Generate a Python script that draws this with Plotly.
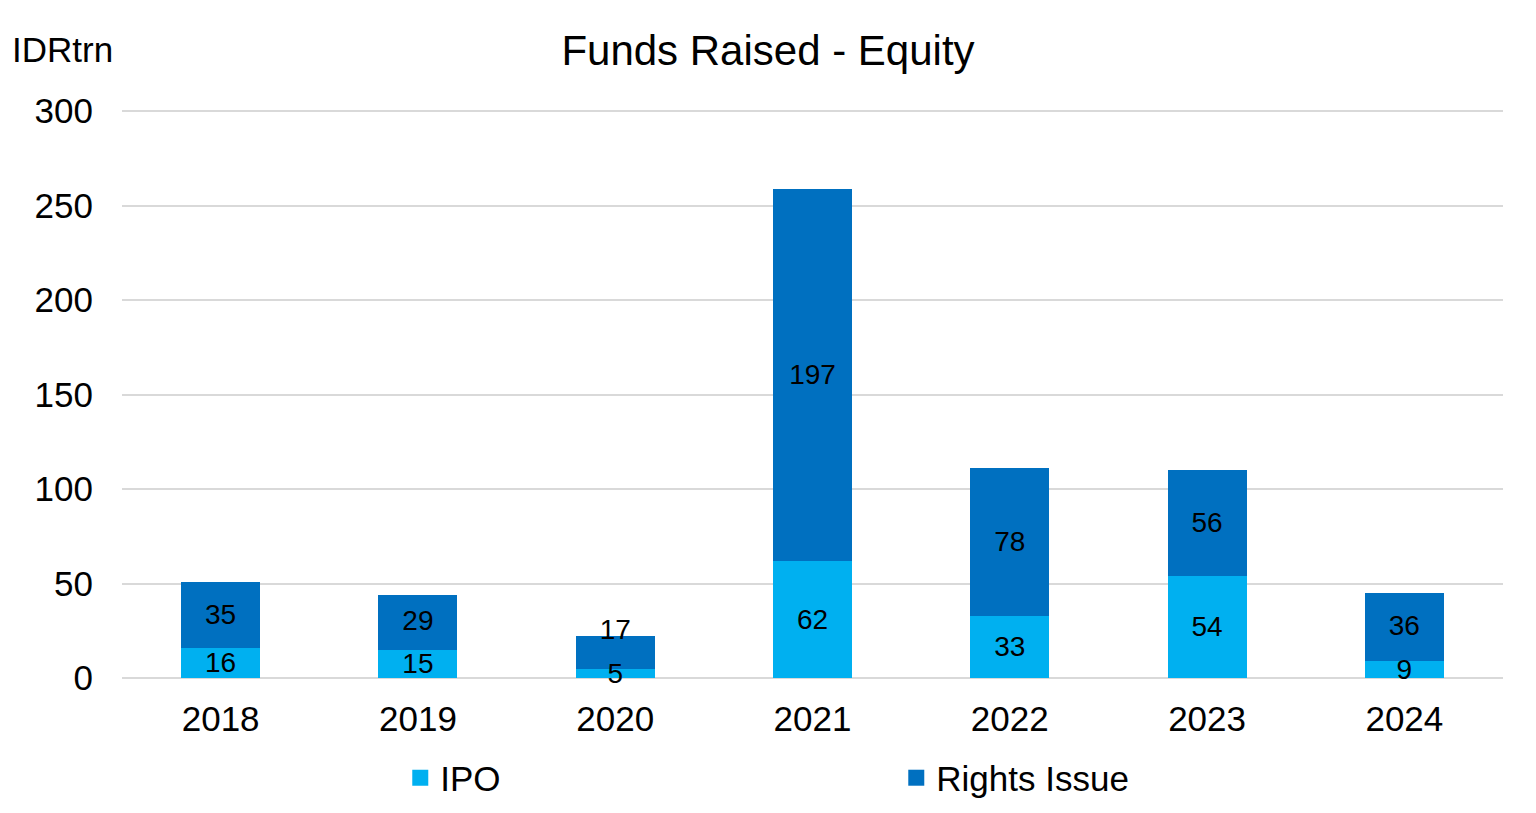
import plotly.graph_objects as go

years = ["2018", "2019", "2020", "2021", "2022", "2023", "2024"]
ipo = [16, 15, 5, 62, 33, 54, 9]
rights = [35, 29, 17, 197, 78, 56, 36]

FONT = "Liberation Sans, Arial, sans-serif"
IPO_COL = "#00B0F0"
RIGHTS_COL = "#0070C0"

# label spots: middle of each segment (nudged down a hair like Excel),
# rights label pushed up when the segments are tiny
nudge = 1.2
ipo_lab_y = [v / 2 - nudge for v in ipo]
rights_lab_y = [max(a + b / 2, a / 2 + 23) - nudge for a, b in zip(ipo, rights)]

fig = go.Figure()
fig.add_trace(go.Bar(x=years, y=ipo, name="IPO", marker_color=IPO_COL,
                     marker_line_width=0, showlegend=False))
fig.add_trace(go.Bar(x=years, y=rights, name="Rights Issue",
                     marker_color=RIGHTS_COL, marker_line_width=0,
                     showlegend=False))

fig.add_trace(go.Scatter(x=years, y=ipo_lab_y, text=[str(v) for v in ipo],
                         mode="text", textfont=dict(size=28, color="black"),
                         showlegend=False, hoverinfo="skip", cliponaxis=False))
fig.add_trace(go.Scatter(x=years, y=rights_lab_y, text=[str(v) for v in rights],
                         mode="text", textfont=dict(size=28, color="black"),
                         showlegend=False, hoverinfo="skip", cliponaxis=False))

# legend entries (square swatches like the original)
for name, col in [("IPO", IPO_COL), ("Rights Issue", RIGHTS_COL)]:
    fig.add_trace(go.Scatter(x=[None], y=[None], mode="markers", name=name,
                             marker=dict(symbol="square", size=17, color=col)))

# page body adds 8px margin, so the figure is 16px smaller than the window
fig.update_layout(
    width=1520, height=797,
    barmode="stack", bargap=0.6,
    plot_bgcolor="white", paper_bgcolor="white",
    font=dict(family=FONT, size=35, color="black"),
    margin=dict(l=114, r=25, t=102, b=127, autoexpand=False),
    title=dict(text="Funds Raised - Equity", x=0.5, xref="container",
               xanchor="center", y=1 - 42 / 797, yanchor="middle",
               font=dict(size=42, color="black")),
    legend=dict(orientation="h", x=0.2015, xanchor="left", y=-0.176,
                yanchor="middle", entrywidth=451, entrywidthmode="pixels",
                traceorder="normal", font=dict(size=35), itemclick=False),
    xaxis=dict(showgrid=False, showline=False, ticks="",
               ticklabelstandoff=17, tickfont=dict(size=35)),
    yaxis=dict(range=[0, 300.6], tickvals=[0, 50, 100, 150, 200, 250, 300],
               showgrid=True, gridcolor="#D9D9D9",
               gridwidth=1.5, zeroline=True, zerolinecolor="#D9D9D9",
               zerolinewidth=1.5, showline=False, ticks="",
               ticklabelstandoff=28, tickfont=dict(size=35)),
    annotations=[dict(text="IDRtrn", xref="paper", yref="paper",
                      x=(10 - 122) / 1381, y=(678 - 50) / 568, xanchor="left",
                      yanchor="middle", showarrow=False,
                      font=dict(size=35, color="black"))],
)

fig.write_html("out.html")
